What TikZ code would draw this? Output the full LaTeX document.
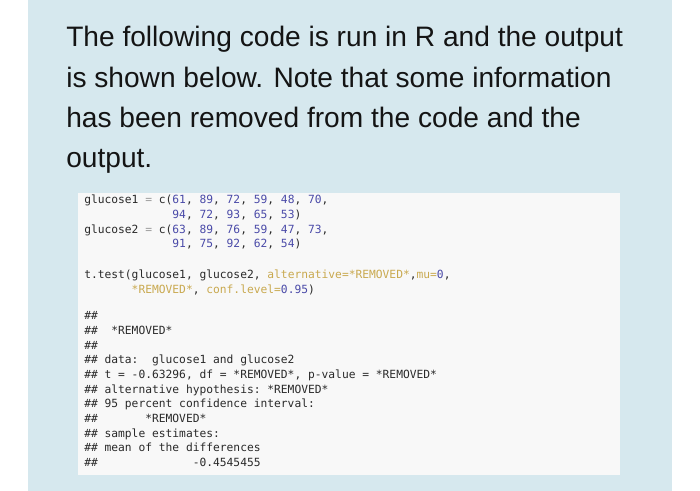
\documentclass[tikz,border=0pt]{standalone}
\usepackage{fontspec}
\setmainfont{Liberation Sans}
\setmonofont{DejaVu Sans Mono}
\definecolor{panel}{HTML}{D6E8EE}
\definecolor{codebg}{HTML}{F8F8F8}
\definecolor{num}{HTML}{4A4AA8}
\definecolor{str}{HTML}{C9A94F}
\definecolor{op}{HTML}{9A9A9A}
\definecolor{txt}{HTML}{2A2A2A}
\begin{document}
\begin{tikzpicture}[x=0.75pt,y=-0.75pt,
  title/.style={anchor=base west,inner sep=0,font=\fontsize{21.1}{24}\selectfont,text=black!92},
  code/.style={anchor=base west,inner sep=0,font=\ttfamily\fontsize{8.45}{10}\selectfont,text=txt}]
\useasboundingbox (0,0) rectangle (700,491);
\fill[white] (0,0) rectangle (700,491);
\fill[panel] (28,0) rectangle (672,491);
\fill[codebg] (78,193) rectangle (620,475);
\node[title] (t1) at (66,47) {The following code is run in R and the output};
\node[title] (t2) at (66,88) {is shown below. Note that some information};
\node[title] (t3) at (66,128) {has been removed from the code and the};
\node[title] (t4) at (66,168) {output.};
\node[code] (c1) at (84,204) {glucose1 \textcolor{op}{=} c(\textcolor{num}{61}, \textcolor{num}{89}, \textcolor{num}{72}, \textcolor{num}{59}, \textcolor{num}{48}, \textcolor{num}{70},};
\node[code] (c2) at (84,219) {~~~~~~~~~~~~~\textcolor{num}{94}, \textcolor{num}{72}, \textcolor{num}{93}, \textcolor{num}{65}, \textcolor{num}{53})};
\node[code] (c3) at (84,233.5) {glucose2 \textcolor{op}{=} c(\textcolor{num}{63}, \textcolor{num}{89}, \textcolor{num}{76}, \textcolor{num}{59}, \textcolor{num}{47}, \textcolor{num}{73},};
\node[code] (c4) at (84,248) {~~~~~~~~~~~~~\textcolor{num}{91}, \textcolor{num}{75}, \textcolor{num}{92}, \textcolor{num}{62}, \textcolor{num}{54})};
\node[code] (c5) at (84,279) {t.test(glucose1, glucose2, \textcolor{str}{alternative=*REMOVED*},\textcolor{str}{mu=}\textcolor{num}{0},};
\node[code] (c6) at (84,294) {~~~~~~~\textcolor{str}{*REMOVED*}, \textcolor{str}{conf.level=}\textcolor{num}{0.95})};
\node[code] (d1) at (84,320) {\#\#};
\node[code] (d2) at (84,335) {\#\#~~*REMOVED*};
\node[code] (d3) at (84,349.5) {\#\#};
\node[code] (d4) at (84,364) {\#\# data:~~glucose1 and glucose2};
\node[code] (d5) at (84,379) {\#\# t = -0.63296, df = *REMOVED*, p-value = *REMOVED*};
\node[code] (d6) at (84,393.5) {\#\# alternative hypothesis: *REMOVED*};
\node[code] (d7) at (84,408) {\#\# 95 percent confidence interval:};
\node[code] (d8) at (84,423) {\#\#~~~~~~~*REMOVED*};
\node[code] (d9) at (84,437.5) {\#\# sample estimates:};
\node[code] (d10) at (84,452) {\#\# mean of the differences};
\node[code] (d11) at (84,467) {\#\#~~~~~~~~~~~~~~-0.4545455};
\end{tikzpicture}
\end{document}
